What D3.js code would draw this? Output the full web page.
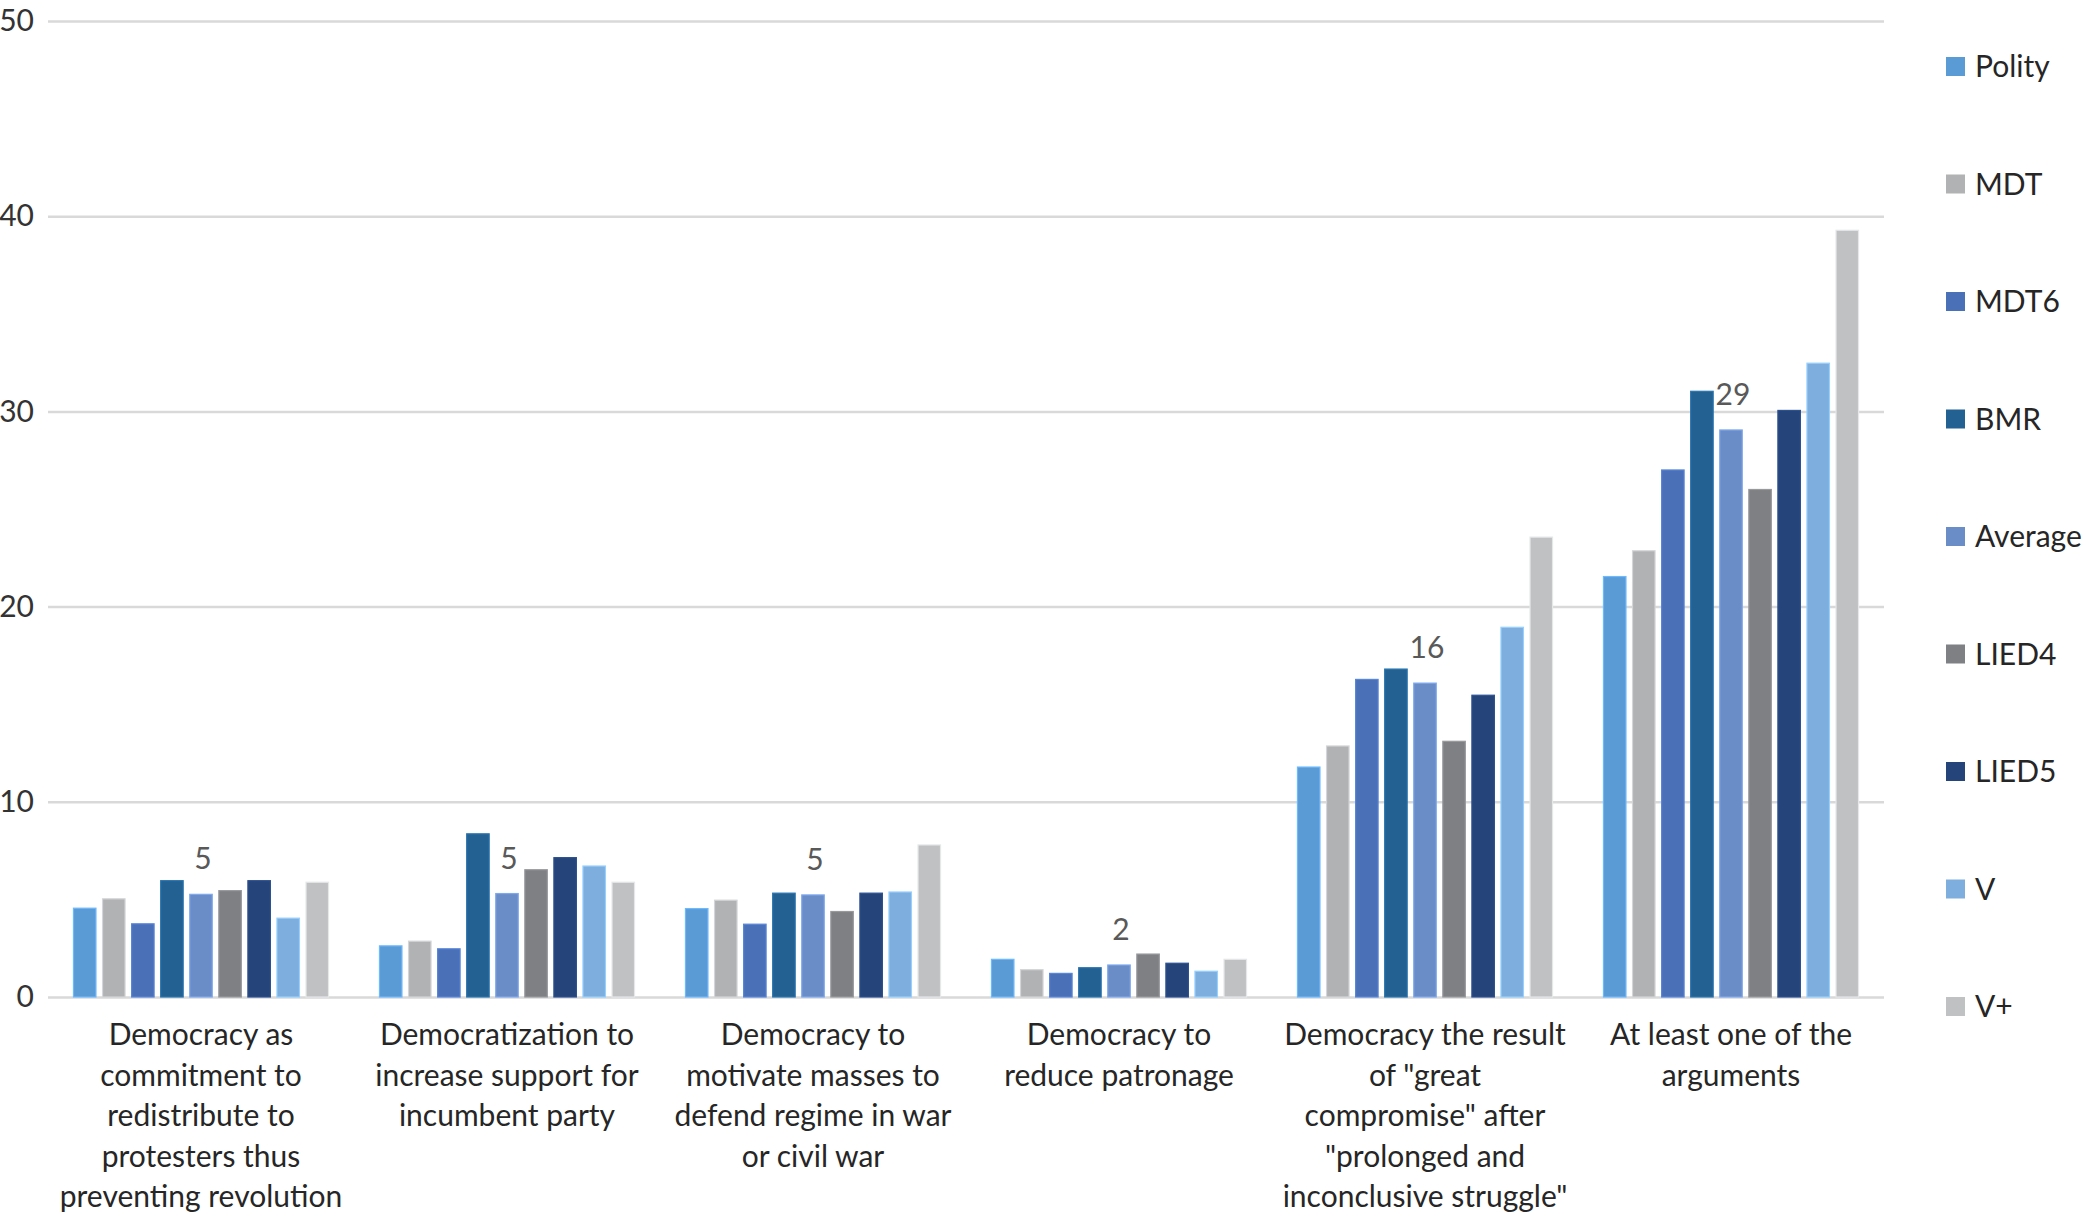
<!DOCTYPE html>
<html>
<head>
<meta charset="utf-8">
<script src="https://cdn.jsdelivr.net/npm/d3@7/dist/d3.min.js"></script>
<style>
  html, body { margin: 0; padding: 0; background: #fff; }
  svg { display: block; }
  text { font-family: Lato, "Open Sans", sans-serif; }
</style>
</head>
<body>
<svg id="chart" width="2083" height="1217"></svg>
<script>
// ---- Data ----
const categories = [
  "Democracy as commitment to redistribute to protesters thus preventing revolution",
  "Democratization to increase support for incumbent party",
  "Democracy to motivate masses to defend regime in war or civil war",
  "Democracy to reduce patronage",
  "Democracy the result of \"great compromise\" after \"prolonged and inconclusive struggle\"",
  "At least one of the arguments"
];
const categoryLines = [
  ["Democracy as", "commitment to", "redistribute to", "protesters thus", "preventing revolution"],
  ["Democratization to", "increase support for", "incumbent party"],
  ["Democracy to", "motivate masses to", "defend regime in war", "or civil war"],
  ["Democracy to", "reduce patronage"],
  ["Democracy the result", "of \"great", "compromise\" after", "\"prolonged and", "inconclusive struggle\""],
  ["At least one of the", "arguments"]
];
const seriesNames = ["Polity", "MDT", "MDT6", "BMR", "Average", "LIED4", "LIED5", "V", "V+"];
const Polity  = [4.55, 2.62, 4.53, 1.93, 11.78, 21.54];
const MDT     = [5.03, 2.86, 4.96, 1.40, 12.86, 22.86];
const MDT6    = [3.75, 2.47, 3.73, 1.21, 16.27, 27.00];
const BMR     = [5.96, 8.36, 5.32, 1.50, 16.80, 31.03];
const Average = [5.26, 5.30, 5.23, 1.64, 16.08, 29.05];
const LIED4   = [5.45, 6.52, 4.38, 2.20, 13.10, 26.00];
const LIED5   = [5.96, 7.14, 5.32, 1.73, 15.46, 30.05];
const V       = [4.04, 6.71, 5.38, 1.32, 18.94, 32.47];
const Vplus   = [5.88, 5.88, 7.79, 1.93, 23.56, 39.28];
const seriesValues = [Polity, MDT, MDT6, BMR, Average, LIED4, LIED5, V, Vplus];
const yTicks = [0, 10, 20, 30, 40, 50];
const colors = ["#5B9BD5", "#B1B2B4", "#4A70B7", "#236192", "#6A8DC8", "#7F8083", "#254479", "#7EAEDE", "#C0C1C3"];

// ---- Layout ----
const svg = d3.select("#chart");
const plotLeft = 48, plotRight = 1884, plotTop = 21, plotBottom = 997;

const y = d3.scaleLinear().domain([0, 50]).range([plotBottom, plotTop]);
const x0 = d3.scaleBand().domain(categories).range([plotLeft, plotRight])
  .paddingInner(0.145).paddingOuter(0.0725);
const x1 = d3.scaleBand().domain(seriesNames).range([0, x0.bandwidth()])
  .paddingInner(0.226).paddingOuter(0.113);
const color = d3.scaleOrdinal().domain(seriesNames).range(colors);

// Gridlines + y tick labels
const yAxis = d3.axisLeft(y).tickValues(yTicks).tickSize(-(plotRight - plotLeft)).tickPadding(14);
const gy = svg.append("g").attr("transform", `translate(${plotLeft},0)`).call(yAxis);
gy.select(".domain").remove();
gy.selectAll(".tick line").attr("stroke", "#d9d9d9").attr("stroke-width", 2.5);
gy.selectAll(".tick text")
  .attr("fill", "#333333")
  .style("font-size", "30px")
  .style("font-family", "Lato, sans-serif");

// Bars
const groups = svg.append("g").selectAll("g")
  .data(categories)
  .join("g")
  .attr("transform", d => `translate(${x0(d)},0)`);

groups.selectAll("rect")
  .data((c, ci) => seriesNames.map((s, si) => ({ s, v: seriesValues[si][ci] })))
  .join("rect")
  .attr("x", d => x1(d.s))
  .attr("y", d => y(d.v))
  .attr("width", x1.bandwidth())
  .attr("height", d => y(0) - y(d.v))
  .attr("fill", d => color(d.s))
  .attr("stroke", d => d3.color(color(d.s)).brighter(0.5))
  .attr("stroke-width", 1.2);

// Data labels on Average series
const fmt = d3.format(".0f");
svg.append("g").selectAll("text")
  .data(categories)
  .join("text")
  .attr("x", (c) => x0(c) + x1("Average") + x1.bandwidth() / 2 + 2)
  .attr("y", (c, i) => y(Average[i]) - 25)
  .attr("text-anchor", "middle")
  .attr("fill", "#595959")
  .style("font-size", "30px")
  .text((c, i) => fmt(Average[i]));

// Category labels
const cl = svg.append("g").selectAll("text")
  .data(categories)
  .join("text")
  .attr("x", c => x0(c) + x0.bandwidth() / 2)
  .attr("y", 1045)
  .attr("text-anchor", "middle")
  .attr("fill", "#262626")
  .style("font-size", "30px");
cl.each(function(c, i) {
  d3.select(this).selectAll("tspan")
    .data(categoryLines[i])
    .join("tspan")
    .attr("x", x0(c) + x0.bandwidth() / 2)
    .attr("dy", (d, j) => j === 0 ? 0 : 40.5)
    .text(d => d);
});

// Legend
const lg = svg.append("g").selectAll("g")
  .data(seriesNames)
  .join("g")
  .attr("transform", (d, i) => `translate(1946,${66.5 + i * 117.5})`);
lg.append("rect")
  .attr("x", 0).attr("y", -9.5)
  .attr("width", 19).attr("height", 19)
  .attr("fill", d => color(d));
lg.append("text")
  .attr("x", 29).attr("y", 10.5)
  .attr("fill", "#262626")
  .style("font-size", "30px")
  .text(d => d);
</script>
</body>
</html>
